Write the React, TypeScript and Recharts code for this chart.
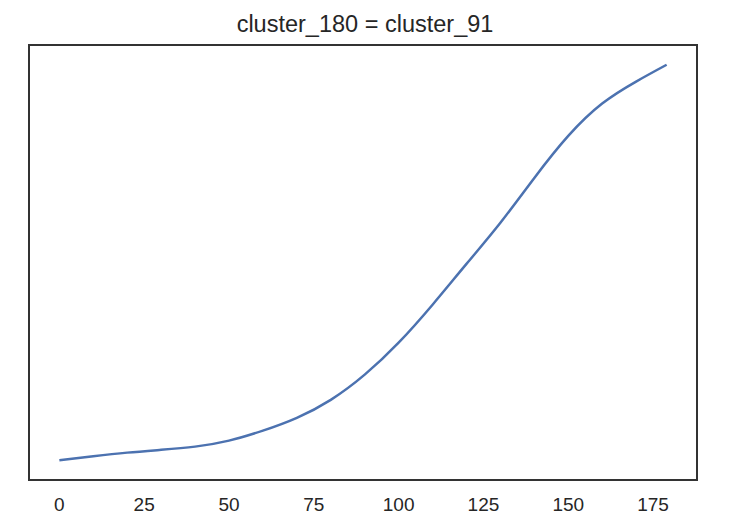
import React from "react";
import { LineChart, Line, XAxis, YAxis, ReferenceArea } from "recharts";

// sampled from the reference curve
const xValues = [0, 10, 20, 30, 40, 50, 60, 70, 80, 90, 100, 110, 120, 130, 140, 150, 160, 170, 179];
const yValues = [
  0.049, 0.059, 0.068, 0.075, 0.083, 0.098, 0.123, 0.155, 0.2, 0.263, 0.343, 0.438, 0.54, 0.643,
  0.755, 0.86, 0.941, 0.996, 1.038,
];
const xTicks = [0, 25, 50, 75, 100, 125, 150, 175];
const title = "cluster_180 = cluster_91";

const data = xValues.map((x, i) => ({ x, y: yValues[i] }));

// matplotlib-style 5% margins
const pad = (lo: number, hi: number): [number, number] => {
  const m = (hi - lo) * 0.05;
  return [lo - m, hi + m];
};
const xDomain = pad(Math.min(...xValues), Math.max(...xValues));
const yDomain = pad(Math.min(...yValues), Math.max(...yValues));

const FONT = "'Liberation Sans', Arial, sans-serif";
const FRAME = "#333333";

export default function App() {
  return (
    <div style={{ position: "absolute", left: 0, top: 0, width: 730, height: 532, background: "#fff", fontFamily: FONT }}>
      <div
        style={{
          position: "absolute",
          top: 11,
          width: 730,
          textAlign: "center",
          fontSize: 23.5,
          lineHeight: "26px",
          color: "#262626",
        }}
      >
        {title}
      </div>
      <LineChart width={730} height={532} data={data} margin={{ top: 45, right: 33, left: 29, bottom: 20 }}>
        <XAxis
          dataKey="x"
          type="number"
          domain={xDomain}
          ticks={xTicks}
          allowDataOverflow
          tickLine={false}
          axisLine={false}
          tick={{ fill: "#262626", fontSize: 19, fontFamily: FONT }}
          tickMargin={12}
          height={32}
        />
        <YAxis type="number" domain={yDomain} allowDataOverflow hide />
        <ReferenceArea
          x1={xDomain[0]}
          x2={xDomain[1]}
          y1={yDomain[0]}
          y2={yDomain[1]}
          fill="none"
          stroke={FRAME}
          strokeWidth={2}
          ifOverflow="visible"
        />
        <Line
          dataKey="y"
          type="natural"
          stroke="#4c72b0"
          strokeWidth={2.5}
          dot={false}
          isAnimationActive={false}
        />
      </LineChart>
    </div>
  );
}
